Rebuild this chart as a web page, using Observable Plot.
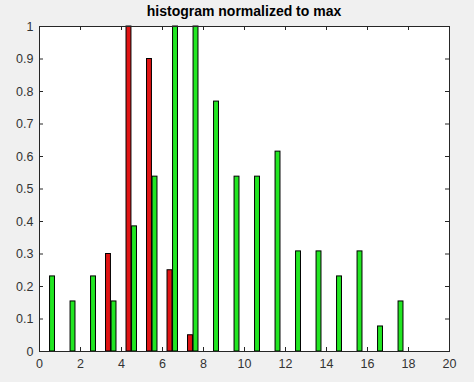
<!DOCTYPE html>
<html>
<head>
<meta charset="utf-8">
<script src="https://cdn.jsdelivr.net/npm/d3@7"></script>
<script src="https://cdn.jsdelivr.net/npm/@observablehq/plot@0.6"></script>
<style>
  html, body { margin: 0; padding: 0; background: #f0f0f0; }
  #wrap { position: relative; width: 474px; height: 382px; background: #f0f0f0; }
  #title { position: absolute; left: 39px; width: 410px; top: 3px; text-align: center;
           font: bold 14px "Liberation Sans", Arial, sans-serif; color: #000; }
</style>
</head>
<body>
<div id="wrap"><div id="title">histogram normalized to max</div></div>
<script>
const binCenters = [0.5,1.5,2.5,3.5,4.5,5.5,6.5,7.5,8.5,9.5,10.5,11.5,12.5,13.5,14.5,15.5,16.5,17.5,18.5,19.5];
const redValues   = [0,0,0,0.3,1,0.9,0.25,0.05,0,0,0,0,0,0,0,0,0,0,0,0];
const greenValues = [0.231,0.154,0.231,0.154,0.385,0.538,1,1,0.769,0.538,0.538,0.615,0.308,0.308,0.231,0.308,0.077,0.154,0,0];
const xTicks = [0,2,4,6,8,10,12,14,16,18,20];
const yTicks = [0,0.1,0.2,0.3,0.4,0.5,0.6,0.7,0.8,0.9,1];

const W = 474, H = 382, mL = 39, mR = 25, mT = 26, mB = 31;
const plotW = W - mL - mR, plotH = H - mT - mB, tick = 4;
const barW = 0.24, off = 0.135;

const red = binCenters.map((c, i) => ({c, v: redValues[i]}));
const green = binCenters.map((c, i) => ({c, v: greenValues[i]}));
const frameColor = "#262626";

const chart = Plot.plot({
  width: W, height: H,
  marginLeft: mL, marginRight: mR, marginTop: mT, marginBottom: mB,
  style: {background: "#f0f0f0", fontFamily: "'Liberation Sans', Arial, sans-serif", fontSize: "12.5px", color: "#333"},
  x: {domain: [0, 20]},
  y: {domain: [0, 1]},
  marks: [
    Plot.frame({fill: "white"}),
    Plot.rectY(red, {x1: d => d.c - off - barW/2, x2: d => d.c - off + barW/2, y1: 0, y2: "v", fill: "#e01414", stroke: "black", strokeWidth: 1}),
    Plot.rectY(green, {x1: d => d.c + off - barW/2, x2: d => d.c + off + barW/2, y1: 0, y2: "v", fill: "#22e622", stroke: "black", strokeWidth: 1}),
    Plot.ruleX(xTicks, {x: d => d, insetTop: plotH - tick, stroke: frameColor}),
    Plot.ruleX(xTicks, {x: d => d, insetBottom: plotH - tick, stroke: frameColor}),
    Plot.ruleY(yTicks, {y: d => d, insetRight: plotW - tick, stroke: frameColor}),
    Plot.ruleY(yTicks, {y: d => d, insetLeft: plotW - tick, stroke: frameColor}),
    Plot.axisX(xTicks, {tickSize: 0, tickPadding: 8, label: null, fill: "#333", tickFormat: d => String(d)}),
    Plot.axisY(yTicks, {tickSize: 0, tickPadding: 6, label: null, fill: "#333", tickFormat: d => String(d)}),
    Plot.frame({stroke: frameColor})
  ]
});
document.getElementById("wrap").prepend(chart);
chart.style.position = "absolute";
chart.style.left = "0";
chart.style.top = "0";
document.getElementById("title").style.zIndex = 2;
</script>
</body>
</html>
